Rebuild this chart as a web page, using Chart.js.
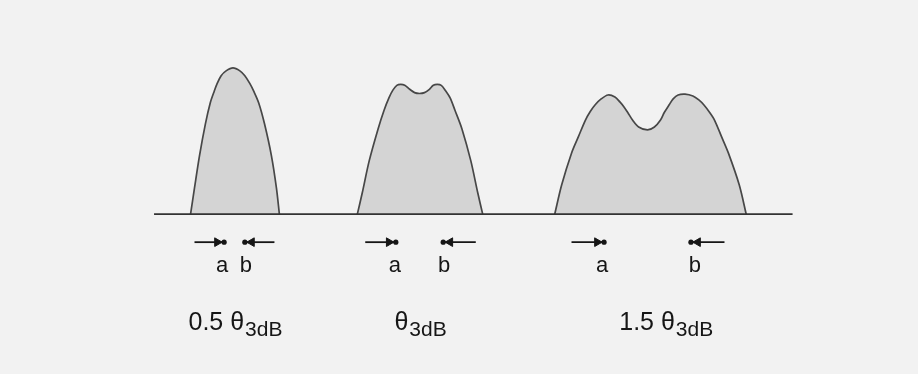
<!DOCTYPE html>
<html>
<head>
<meta charset="utf-8">
<script src="https://cdn.jsdelivr.net/npm/chart.js@4/dist/chart.umd.min.js"></script>
<style>
    html, body { margin: 0; padding: 0; background: #f2f2f2; }
    #beams { display: block; }
</style>
</head>
<body>
<canvas id="beams" width="918" height="374"></canvas>
<script>
    // Beam patterns of two sources a and b, for three separations
    // x: angle (arbitrary units), y: relative amplitude (peak of the narrow case = 1)
    const narrowAngles = [18.7, 19.1, 19.6, 20.2, 20.7, 21.1, 21.4, 21.8, 22.3, 23.0, 23.7, 24.2, 24.7, 25.1, 25.6, 26.2, 26.9, 27.4, 27.7];
    const narrowLevels = [0, 0.179, 0.397, 0.616, 0.762, 0.841, 0.894, 0.947, 0.980, 1.0, 0.980, 0.947, 0.894, 0.841, 0.762, 0.616, 0.397, 0.179, 0];

    const midAngles = [35.6, 36.1, 36.8, 37.7, 38.3, 38.8, 39.2, 39.6, 40.0, 40.4, 40.9, 41.4, 41.9, 42.4, 42.9, 43.3, 43.7, 44.1, 44.5, 45.0, 45.5, 46.2, 47.1, 47.8, 48.3];
    const midLevels = [0, 0.146, 0.364, 0.583, 0.709, 0.795, 0.848, 0.881, 0.887, 0.881, 0.854, 0.831, 0.825, 0.831, 0.854, 0.881, 0.887, 0.881, 0.848, 0.795, 0.709, 0.583, 0.364, 0.146, 0];

    const wideAngles = [55.6, 56.3, 57.3, 58.0, 58.7, 59.2, 59.7, 60.3, 61.0, 61.7, 62.2, 62.6, 63.0, 63.5, 64.1, 65.0, 65.7, 66.3, 66.7, 67.2, 67.6, 68.1, 68.8, 69.6, 70.2, 70.7, 71.3, 71.8, 72.5, 73.2, 74.3, 75.0];
    const wideLevels = [0, 0.199, 0.417, 0.530, 0.642, 0.702, 0.748, 0.788, 0.815, 0.801, 0.768, 0.735, 0.695, 0.642, 0.596, 0.576, 0.596, 0.642, 0.695, 0.748, 0.788, 0.815, 0.821, 0.808, 0.781, 0.748, 0.695, 0.642, 0.530, 0.417, 0.199, 0];

    const axisStart = 15.0;
    const axisEnd = 79.7;

    // Pointing positions of a and b, and where the arrow tails start
    const tailA = [19.1, 36.4, 57.3];
    const dotA = [22.1, 39.5, 60.6];
    const dotB = [24.2, 44.3, 69.4];
    const tailB = [27.2, 47.6, 72.8];

    const letterAX = [21.9, 39.4, 60.4];
    const letterBX = [24.3, 44.4, 69.8];

    const captionPrefix = ['0.5 ', '', '1.5 '];
    const captionX = [23.25, 42.0, 66.9];

    const arrowLevel = -0.192;
    const letterLevel = -0.397;
    const captionLevel = -0.79;

    const ink = '#161616';
    const mainFont = '25px "Liberation Sans", Arial, sans-serif';
    const subFont = '21px "Liberation Sans", Arial, sans-serif';

    function toPoints(xs, ys) {
        return xs.map((v, i) => ({ x: v, y: ys[i] }));
    }

    function humpDataset(xs, ys) {
        return {
            data: toPoints(xs, ys),
            borderColor: '#474747',
            borderWidth: 1.7,
            backgroundColor: '#d4d4d4',
            fill: 'origin',
            tension: 0.3,
            pointRadius: 0,
            order: 2
        };
    }

    const datasets = [
        humpDataset(narrowAngles, narrowLevels),
        humpDataset(midAngles, midLevels),
        humpDataset(wideAngles, wideLevels),
        {
            data: [{ x: axisStart, y: 0 }, { x: axisEnd, y: 0 }],
            borderColor: '#333333',
            borderWidth: 1.7,
            pointRadius: 0,
            fill: false,
            order: 1
        }
    ];

    // Arrow shafts
    tailA.forEach(function(t, i) {
        datasets.push({
            data: [{ x: t, y: arrowLevel }, { x: dotA[i], y: arrowLevel }],
            borderColor: ink, borderWidth: 1.8, pointRadius: 0, fill: false, order: 0
        });
        datasets.push({
            data: [{ x: dotB[i], y: arrowLevel }, { x: tailB[i], y: arrowLevel }],
            borderColor: ink, borderWidth: 1.8, pointRadius: 0, fill: false, order: 0
        });
    });

    // Arrow heads (triangles) and the dots they point at
    datasets.push({
        type: 'scatter',
        data: dotA.map(v => ({ x: v - 0.7, y: arrowLevel })),
        pointStyle: 'triangle', pointRotation: 90, pointRadius: 5,
        backgroundColor: ink, borderColor: ink, borderWidth: 1, order: 0
    });
    datasets.push({
        type: 'scatter',
        data: dotB.map(v => ({ x: v + 0.7, y: arrowLevel })),
        pointStyle: 'triangle', pointRotation: -90, pointRadius: 5,
        backgroundColor: ink, borderColor: ink, borderWidth: 1, order: 0
    });
    datasets.push({
        type: 'scatter',
        data: dotA.concat(dotB).map(v => ({ x: v, y: arrowLevel })),
        pointStyle: 'circle', pointRadius: 2.6,
        backgroundColor: ink, borderColor: ink, borderWidth: 0, order: 0
    });

    // Letters and captions, placed through the chart scales
    const textPlugin = {
        id: 'beamText',
        afterDatasetsDraw(chart) {
            const ctx = chart.ctx;
            const x = chart.scales.x;
            const y = chart.scales.y;
            ctx.save();
            ctx.fillStyle = ink;
            ctx.textBaseline = 'alphabetic';

            ctx.textAlign = 'center';
            ctx.font = '22px "Liberation Sans", Arial, sans-serif';
            const letterY = y.getPixelForValue(letterLevel);
            letterAX.forEach(v => ctx.fillText('a', x.getPixelForValue(v), letterY));
            letterBX.forEach(v => ctx.fillText('b', x.getPixelForValue(v), letterY));

            ctx.textAlign = 'left';
            const base = y.getPixelForValue(captionLevel);
            captionPrefix.forEach(function(pre, i) {
                const main = pre + '\u03B8';
                ctx.font = mainFont;
                const w1 = ctx.measureText(main).width;
                ctx.font = subFont;
                const w2 = ctx.measureText('3dB').width;
                const left = x.getPixelForValue(captionX[i]) - (w1 + w2 + 1) / 2;
                ctx.font = mainFont;
                ctx.fillText(main, left, base);
                ctx.font = subFont;
                ctx.fillText('3dB', left + w1 + 1, base + 6);
            });
            ctx.restore();
        }
    };

    const ctx = document.getElementById('beams').getContext('2d');
    new Chart(ctx, {
        type: 'line',
        data: { datasets: datasets },
        options: {
            responsive: false,
            animation: false,
            layout: { padding: 0 },
            scales: {
                x: { type: 'linear', min: 0, max: 91.8, display: false },
                y: { type: 'linear', min: -159 / 151, max: 215 / 151, display: false }
            },
            plugins: {
                legend: { display: false },
                tooltip: { enabled: false }
            }
        },
        plugins: [textPlugin]
    });
</script>
</body>
</html>
